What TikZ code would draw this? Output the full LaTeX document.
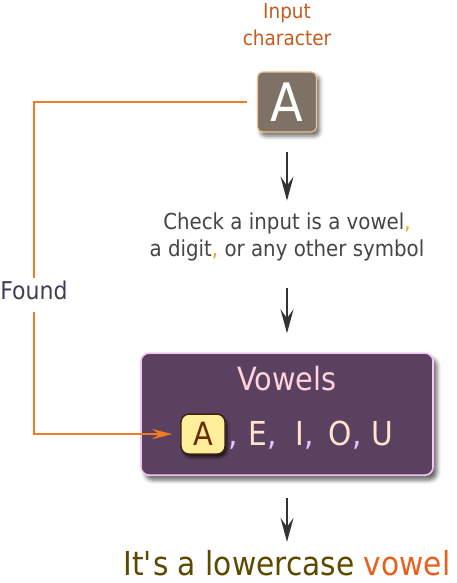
\documentclass[tikz,border=0pt]{standalone}
\usepackage{xcolor}
\usepackage{fontspec}
\setmainfont{DejaVu Sans}[FakeStretch=0.9]
\usepackage{tikz}
\usetikzlibrary{positioning,arrows.meta,shadows.blur}
\definecolor{inpfill}{HTML}{7E7266}
\definecolor{inpedge}{HTML}{F4C28E}
\definecolor{lblcol}{HTML}{C65A1E}
\definecolor{foundcol}{HTML}{F27B22}
\definecolor{foundtxt}{HTML}{3C3F55}
\definecolor{checktxt}{HTML}{454545}
\definecolor{commacol}{HTML}{F7A21B}
\definecolor{vowfill}{HTML}{5B4160}
\definecolor{vowedge}{HTML}{F3C6F5}
\definecolor{vowtitle}{HTML}{FFD2DC}
\definecolor{vowletter}{HTML}{FFE3CC}
\definecolor{vowcomma}{HTML}{E6C6FF}
\definecolor{afill}{HTML}{FFEE9A}
\definecolor{aedge}{HTML}{3D220F}
\definecolor{atxt}{HTML}{6B2B00}
\definecolor{restxt}{HTML}{5B4A00}
\definecolor{resvowel}{HTML}{E9601B}
\definecolor{flowcol}{HTML}{333333}

\begin{document}
	\begin{tikzpicture}[x=1pt,y=-1pt,
			inputbox/.style={draw=inpedge, line width=1.2pt, fill=inpfill, rounded corners=5pt,
				minimum width=59pt, minimum height=60pt, inner sep=0pt, text=white,
				font=\fontsize{53}{53}\selectfont,
				blur shadow={shadow xshift=3pt, shadow yshift=-4pt, shadow blur radius=4pt, shadow opacity=60}},
			vowelbox/.style={draw=vowedge, line width=1.6pt, fill=vowfill, rounded corners=8pt,
				minimum width=292pt, minimum height=122pt, inner sep=0pt,
				blur shadow={shadow xshift=4pt, shadow yshift=-5pt, shadow blur radius=4pt, shadow opacity=60}},
			hitbox/.style={draw=aedge, line width=1.4pt, fill=afill, rounded corners=8pt,
				minimum width=44pt, minimum height=40pt, inner sep=0pt, text=atxt,
				font=\fontsize{32}{32}\selectfont,
				blur shadow={shadow xshift=2pt, shadow yshift=-3pt, shadow blur radius=2.5pt, shadow opacity=70}},
			flow/.style={draw=flowcol, line width=2pt, -{Stealth[length=24pt, width=13pt, inset=9pt]}},
			foundline/.style={draw=foundcol, line width=2pt},
		]
		\useasboundingbox (0,0) rectangle (456,583);
		\node[inputbox] (inp) at (287,102) {A};
		\node[above=25pt of inp, align=center, inner sep=0pt, text=lblcol,
			font=\fontsize{20.5}{27}\selectfont] (lbl) {Input\\character};
		\node[below=80pt of inp, align=center, inner sep=0pt, text=checktxt,
			font=\fontsize{22}{27}\selectfont] (check)
			{Check a input is a vowel\textcolor{commacol}{,}\\a digit\textcolor{commacol}{,} or any other symbol};
		\node[vowelbox, below=91pt of check] (vowels) {};
		\node[below=14pt of vowels.north, inner sep=0pt, text=vowtitle,
			font=\fontsize{32}{32}\selectfont] (title) {Vowels};
		\node[hitbox] (hit) at ([xshift=-84pt, yshift=-20pt]vowels.center) {A};
		\node[base right=3pt of hit, inner sep=0pt, text=vowletter,
			font=\fontsize{33}{33}\selectfont] (rest)
			{\textcolor{vowcomma}{,}\hspace{10pt}E\textcolor{vowcomma}{,}\hspace{19pt}I\textcolor{vowcomma}{,}\hspace{15pt}O\textcolor{vowcomma}{,}\hspace{10pt}U};
		\node[below=74pt of vowels, inner sep=0pt, text=restxt,
			font=\fontsize{33}{33}\selectfont] (result) {It\textquotesingle s a lowercase \textcolor{resvowel}{vowel}};
		\node[inner sep=0pt, text=foundtxt, font=\fontsize{24.5}{24.5}\selectfont] (found) at (34,290) {Found};
		\draw[flow, shorten <=19pt, shorten >=12pt] (inp) -- (check);
		\draw[flow, shorten <=27pt, shorten >=19pt] (check) -- (vowels);
		\draw[flow, shorten <=22pt, shorten >=8pt] (vowels) -- (result);
		\draw[foundline, shorten <=10pt, shorten >=2pt] (inp.west) -| (found.north);
		\draw[foundline, shorten <=12pt, shorten >=8pt, -{Stealth[length=20pt, width=10pt, inset=7pt]}] (found.south) |- (hit.west);
	\end{tikzpicture}
\end{document}
